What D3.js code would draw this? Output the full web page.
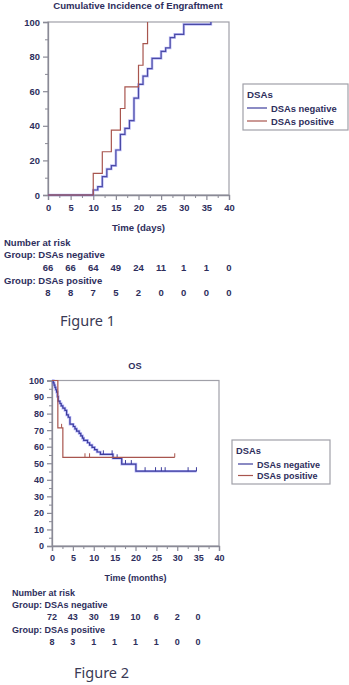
<!DOCTYPE html>
<html lang="en">
<head>
<meta charset="UTF-8">
<title>Engraftment and OS by DSAs</title>
<script src="https://d3js.org/d3.v7.min.js"></script>
<style>
  body { margin: 0; background: #fff; }
  svg text { font-family: "Liberation Sans", Arial, sans-serif; fill: #2e2e5c; }
  .bold { font-weight: bold; }
  .fig { font-family: "Noto Sans", sans-serif !important; font-weight: normal; fill: #3a3a55 !important; }
</style>
</head>
<body>
<svg width="349" height="685"></svg>
<script>
// ---- Figure 1: cumulative incidence of engraftment ----
const ciNegTimes  = [0, 10, 11, 12, 13, 14, 15, 16, 17, 18, 19, 20, 21, 22, 23, 25, 26, 27, 28, 30, 36];
const ciNegValues = [0, 2.9, 4.8, 10.6, 15, 17, 26, 35, 38.5, 43, 56, 64, 68.7, 73, 79, 83, 85, 91, 92.9, 98.6, 100];
const ciPosTimes  = [0, 10, 12, 14, 16, 17, 20, 21, 22];
const ciPosValues = [0, 12.5, 25, 37.5, 50, 62.5, 75, 87.5, 100];
const ciXTicks = [0, 5, 10, 15, 20, 25, 30, 35, 40];
const ciYTicks = [0, 20, 40, 60, 80, 100];
const ciRiskNeg = [66, 66, 64, 49, 24, 11, 1, 1, 0];
const ciRiskPos = [8, 8, 7, 5, 2, 0, 0, 0, 0];

// ---- Figure 2: overall survival ----
const osNegTimes  = [0, 0.3, 0.5, 0.7, 0.9, 1.1, 1.3, 1.5, 1.9, 2.2, 2.6, 3.1, 3.5, 3.9, 4.3, 5.1, 5.5, 5.9, 6.5, 6.9, 7.3, 7.6, 8.5, 9.0, 9.6, 10.2, 10.8, 11.6, 14.6, 16.7, 20.1];
const osNegValues = [100, 98.6, 97.2, 95.8, 94.4, 93, 90.3, 87.5, 86.1, 84.7, 83.3, 81.9, 79.2, 77.8, 73.6, 72.2, 70.8, 69.4, 68, 66.6, 65.2, 63.8, 62.4, 61, 59.6, 58.2, 56.8, 55.4, 53, 49.5, 45.2];
const osNegEnd = 34.6;
const osNegCensor = [12.3, 14.4, 15.6, 17.6, 19.0, 22.3, 24.8, 26.2, 27.1, 32.6, 34.6];
const osPosTimes  = [0, 1.4, 2.6];
const osPosValues = [100, 71.4, 53.6];
const osPosEnd = 29.4;
const osPosCensor = [2.3, 7.9, 9.0, 29.4];
const osXTicks = [0, 5, 10, 15, 20, 25, 30, 35, 40];
const osYTicks = [0, 10, 20, 30, 40, 50, 60, 70, 80, 90, 100];
const osRiskTimes = [0, 5, 10, 15, 20, 25, 30, 35];
const osRiskNeg = [72, 43, 30, 19, 10, 6, 2, 0];
const osRiskPos = [8, 3, 1, 1, 1, 1, 0, 0];

const seriesNames = ["DSAs negative", "DSAs positive"];
const negColor = "#3d3d9c", posColor = "#a8554e";

const svg = d3.select("svg");

function stepValue(times, values, t) {
  let v = values[0];
  times.forEach((tt, i) => { if (tt <= t) v = values[i]; });
  return v;
}

function drawPanel(o) {
  const g = svg.append("g");
  const x = d3.scaleLinear().domain([0, 40]).range(o.xr);
  const y = d3.scaleLinear().domain([0, 100]).range(o.yr);

  // frame
  g.append("rect")
    .attr("x", o.xr[0]).attr("y", o.yr[1])
    .attr("width", o.xr[1] - o.xr[0]).attr("height", o.yr[0] - o.yr[1])
    .attr("fill", "none").attr("stroke", "#a0a0a8").attr("stroke-width", 1.2);

  // minor ticks
  g.append("g").attr("transform", `translate(${o.xr[0]},0)`)
    .call(d3.axisLeft(y).tickValues(o.yMinor).tickSize(3).tickFormat(""))
    .call(a => a.select(".domain").remove())
    .selectAll("line").attr("stroke", "#8a8a96");
  g.append("g").attr("transform", `translate(0,${o.yr[0]})`)
    .call(d3.axisBottom(x).tickValues(d3.range(2.5, 40, 5)).tickSize(3).tickFormat(""))
    .call(a => a.select(".domain").remove())
    .selectAll("line").attr("stroke", "#8a8a96");

  // major axes
  const ya = g.append("g").attr("transform", `translate(${o.xr[0]},0)`)
    .call(d3.axisLeft(y).tickValues(o.yTicks).tickSize(5).tickPadding(3));
  const xa = g.append("g").attr("transform", `translate(0,${o.yr[0]})`)
    .call(d3.axisBottom(x).tickValues(o.xTicks).tickSize(5).tickPadding(4));
  [ya, xa].forEach(a => {
    a.select(".domain").attr("stroke", "#8a8a96").attr("stroke-width", 1.3);
    a.selectAll("line").attr("stroke", "#8a8a96").attr("stroke-width", 1.2);
    a.selectAll("text").attr("class", "bold").style("font-size", o.tickFont + "px")
      .style("font-family", "'Liberation Sans', Arial, sans-serif").attr("fill", "#2e2e5c");
  });

  // title
  g.append("text").attr("class", "bold")
    .attr("x", o.titleX).attr("y", o.titleY)
    .attr("text-anchor", "middle").style("font-size", o.titleFont + "px")
    .text(o.title);

  // x label
  g.append("text").attr("class", "bold")
    .attr("x", (o.xr[0] + o.xr[1]) / 2).attr("y", o.xLabelY)
    .attr("text-anchor", "middle").style("font-size", o.labelFont + "px")
    .text(o.xLabel);

  // curves
  const line = d3.line().x(d => x(d[0])).y(d => y(d[1])).curve(d3.curveStepAfter);
  o.series.forEach(s => {
    const pts = s.times.map((t, i) => [t, s.values[i]]);
    pts.push([s.end, s.values[s.values.length - 1]]);
    if (s.halo) {
      g.append("path").attr("d", line(pts)).attr("fill", "none")
        .attr("stroke", s.halo).attr("stroke-width", 2.6).attr("stroke-opacity", 0.55);
    }
    g.append("path").attr("d", line(pts)).attr("fill", "none")
      .attr("stroke", s.color).attr("stroke-width", 1.2);
    (s.censor || []).forEach(c => {
      const v = stepValue(s.times, s.values, c);
      g.append("line")
        .attr("x1", x(c)).attr("x2", x(c))
        .attr("y1", y(v)).attr("y2", y(v) - 4)
        .attr("stroke", s.color).attr("stroke-width", 1);
    });
  });

  // legend
  const L = o.legend;
  g.append("rect").attr("x", L.x).attr("y", L.y).attr("width", L.w).attr("height", L.h)
    .attr("fill", "#fff").attr("stroke", "#a0a0a8").attr("stroke-width", 1.2);
  g.append("text").attr("class", "bold").attr("x", L.x + 4).attr("y", L.y + 14)
    .style("font-size", L.font + 0.3 + "px").text("DSAs");
  [negColor, posColor].forEach((c, i) => {
    const ly = L.y + L.row0 + i * L.rowH;
    g.append("line").attr("x1", L.x + L.lx0).attr("x2", L.x + L.lx1)
      .attr("y1", ly).attr("y2", ly).attr("stroke", c).attr("stroke-width", 1.2);
    g.append("text").attr("class", "bold").attr("x", L.x + L.lx1 + 4).attr("y", ly + 3.5)
      .style("font-size", L.font + "px").text(seriesNames[i]);
  });

  // number at risk
  const R = o.risk;
  const rt = (txt, ry) => g.append("text").attr("class", "bold").attr("x", R.x)
    .attr("y", ry).style("font-size", R.font + "px").text(txt);
  rt("Number at risk", R.y0);
  rt("Group: " + seriesNames[0], R.y0 + R.dy);
  rt("Group: " + seriesNames[1], R.y0 + R.dy * 3);
  [o.riskNeg, o.riskPos].forEach((arr, k) => {
    g.selectAll(null).data(arr).enter().append("text").attr("class", "bold")
      .attr("x", (d, i) => x(o.riskTimes[i]))
      .attr("y", R.y0 + R.dy * (2 + 2 * k))
      .attr("text-anchor", "middle").style("font-size", R.font + "px")
      .text(d => d);
  });

  // figure caption
  g.append("text").attr("class", "fig").attr("x", o.figX).attr("y", o.figY)
    .style("font-size", "14.5px").text(o.fig);
}

drawPanel({
  xr: [48, 229], yr: [195, 22],
  xTicks: ciXTicks, yTicks: ciYTicks, yMinor: [10, 30, 50, 70, 90],
  tickFont: 9.4, title: "Cumulative Incidence of Engraftment",
  titleX: 138, titleY: 9, titleFont: 9.6,
  xLabel: "Time (days)", xLabelY: 230.5, labelFont: 9.6,
  series: [
    { times: ciNegTimes, values: ciNegValues, end: 36, color: "#4a4aa6", halo: "#8c8cf0" },
    { times: ciPosTimes, values: ciPosValues, end: 22, color: posColor }
  ],
  legend: { x: 243, y: 84, w: 105, h: 46, font: 9.4, row0: 24, rowH: 13, lx0: 4, lx1: 24 },
  risk: { x: 4, y0: 245.5, dy: 12.7, font: 9.5 },
  riskTimes: ciXTicks, riskNeg: ciRiskNeg, riskPos: ciRiskPos,
  fig: "Figure 1", figX: 60, figY: 326
});

drawPanel({
  xr: [52, 219], yr: [546, 380.5],
  xTicks: osXTicks, yTicks: osYTicks, yMinor: d3.range(5, 100, 10),
  tickFont: 9, title: "OS",
  titleX: 135, titleY: 368.5, titleFont: 9.2,
  xLabel: "Time (months)", xLabelY: 580.5, labelFont: 9,
  series: [
    { times: osNegTimes, values: osNegValues, end: osNegEnd, color: negColor, halo: "#7a7af5", censor: osNegCensor },
    { times: osPosTimes, values: osPosValues, end: osPosEnd, color: posColor, censor: osPosCensor }
  ],
  legend: { x: 232, y: 440, w: 98, h: 44, font: 9, row0: 24, rowH: 11.5, lx0: 6, lx1: 21 },
  risk: { x: 12, y0: 595.5, dy: 12.4, font: 9 },
  riskTimes: osRiskTimes, riskNeg: osRiskNeg, riskPos: osRiskPos,
  fig: "Figure 2", figX: 74, figY: 678
});
</script>
</body>
</html>
